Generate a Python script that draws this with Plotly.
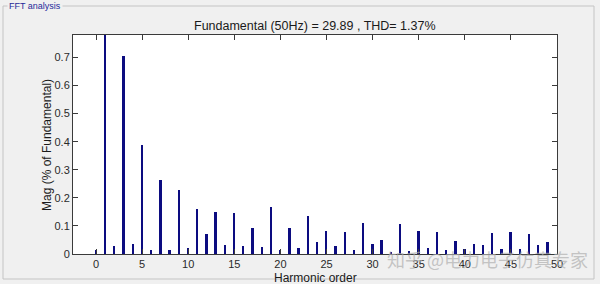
import plotly.graph_objects as go

# Harmonic orders and magnitudes (% of fundamental)
harmonic_order = list(range(0, 50))
magnitude = [
    0.013, 100.0, 0.030, 0.707, 0.036, 0.389, 0.014, 0.262, 0.015, 0.228,
    0.023, 0.160, 0.072, 0.151, 0.032, 0.145, 0.030, 0.093, 0.025, 0.166,
    0.015, 0.093, 0.023, 0.137, 0.043, 0.083, 0.027, 0.079, 0.015, 0.111,
    0.036, 0.050, 0.006, 0.107, 0.010, 0.083, 0.021, 0.078, 0.015, 0.046,
    0.018, 0.037, 0.031, 0.075, 0.019, 0.078, 0.017, 0.070, 0.033, 0.044,
]
x_ticks = [0, 5, 10, 15, 20, 25, 30, 35, 40, 45, 50]
y_ticks = [0, 0.1, 0.2, 0.3, 0.4, 0.5, 0.6, 0.7]
y_tick_labels = ["0", "0.1", "0.2", "0.3", "0.4", "0.5", "0.6", "0.7"]

title_text = "Fundamental (50Hz) = 29.89 , THD= 1.37%"
x_title = "Harmonic order"
y_title = "Mag (% of Fundamental)"
panel_title = "FFT analysis"
watermark = "知乎 @电力电子仿真专家"

W, H = 600, 284
L, R, T, B = 73, 43, 35, 30
PW, PH = W - L - R, H - T - B


def px(x):
    return (x - L) / PW


def py(y):
    return (H - B - y) / PH


FONT = "Arial, 'Liberation Sans', Helvetica, sans-serif"
BG = "#f0f0f0"
NAVY = "#0c0c80"

fig = go.Figure()
fig.add_trace(go.Bar(
    x=harmonic_order, y=magnitude, width=0.2,
    marker=dict(color=NAVY, line=dict(width=0)),
    showlegend=False,
))

axis_common = dict(
    showline=True, linecolor="#3a3a3a", linewidth=1, mirror="allticks",
    ticks="inside", ticklen=5, tickcolor="#3a3a3a", tickwidth=1,
    showgrid=False, zeroline=False, automargin=False,
    tickfont=dict(family=FONT, size=11, color="#2a2a2a"),
)

fig.update_xaxes(range=[-2.5, 50], tickvals=x_ticks, ticklabelstandoff=0, **axis_common)
fig.update_yaxes(range=[0, 0.78], tickvals=y_ticks, ticktext=y_tick_labels,
                 ticklabelstandoff=0, **axis_common)

shapes = [
    dict(type="rect", xref="paper", yref="paper",
         x0=px(3), x1=px(594), y0=py(279), y1=py(6),
         line=dict(color="#c4c4c4", width=1), fillcolor="rgba(0,0,0,0)", layer="below"),
]

annotations = [
    dict(text=title_text, xref="paper", yref="paper", x=0.5, y=py(26),
         xanchor="center", yanchor="middle", showarrow=False,
         font=dict(family=FONT, size=12.5, color="#1a1a1a")),
    dict(text=x_title, xref="paper", yref="paper", x=0.5, y=py(277.5),
         xanchor="center", yanchor="middle", showarrow=False,
         font=dict(family=FONT, size=12, color="#1a1a1a")),
    dict(text=y_title, xref="paper", yref="paper", x=px(47), y=py(145),
         xanchor="center", yanchor="middle", showarrow=False, textangle=-90,
         font=dict(family=FONT, size=12, color="#1a1a1a")),
    dict(text=panel_title, xref="paper", yref="paper", x=px(7), y=py(6),
         xanchor="left", yanchor="middle", showarrow=False, bgcolor=BG,
         borderpad=1,
         font=dict(family=FONT, size=9, color="#1f2a9a")),
    dict(text=watermark, xref="paper", yref="paper", x=px(385), y=py(259),
         xanchor="left", yanchor="middle", showarrow=False,
         font=dict(family="'Noto Sans CJK SC', sans-serif", size=18, color="rgba(175,175,175,0.7)")),
]

fig.update_layout(
    width=W, height=H,
    margin=dict(l=L, r=R, t=T, b=B, pad=0, autoexpand=False),
    paper_bgcolor=BG, plot_bgcolor="white",
    bargap=0, shapes=shapes, annotations=annotations,
    font=dict(family=FONT),
)

fig.write_html("out.html")
